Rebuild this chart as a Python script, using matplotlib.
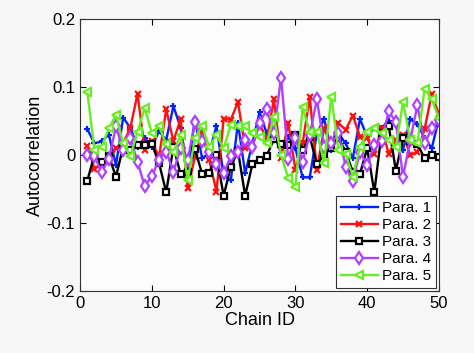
import matplotlib.pyplot as plt
import numpy as np

plt.rcParams['font.family'] = ['Liberation Sans', 'DejaVu Sans']

chain_id = np.arange(1, 51)

para1 = [0.038, 0.017, 0.020, 0.030, -0.015, 0.055, 0.040, 0.012, 0.025, 0.012,
         0.035, 0.022, 0.072, 0.040, -0.025, 0.053, -0.005, 0.003, 0.043, -0.030,
         -0.037, 0.047, -0.027, 0.017, 0.063, 0.032, 0.032, 0.003, 0.027, 0.010,
         -0.033, -0.033, 0.032, 0.053, 0.008, 0.032, 0.017, -0.005, 0.053, 0.027,
         0.040, 0.040, 0.050, 0.045, 0.008, 0.053, 0.045, 0.025, 0.010, 0.053]
para2 = [0.013, -0.020, -0.015, -0.008, 0.010, 0.017, 0.040, 0.090, 0.008, 0.020,
         -0.003, 0.067, 0.020, 0.053, -0.049, -0.003, 0.035, -0.007, -0.054, 0.053,
         0.052, 0.078, 0.010, 0.012, 0.047, 0.022, 0.082, -0.005, 0.047, -0.022,
         0.017, 0.085, -0.022, 0.040, 0.012, 0.047, 0.037, 0.058, 0.027, 0.025,
         0.002, 0.040, 0.002, 0.022, 0.030, 0.000, 0.004, 0.038, 0.090, 0.060]
para3 = [-0.038, 0.000, -0.011, -0.002, -0.032, 0.012, 0.007, 0.014, 0.014, 0.016,
         -0.012, -0.055, 0.012, -0.028, -0.025, 0.009, -0.028, -0.026, 0.000, -0.060,
         -0.017, 0.006, -0.060, -0.014, -0.007, -0.001, 0.023, 0.016, 0.015, 0.030,
         0.007, 0.027, -0.014, 0.001, 0.010, 0.025, 0.005, -0.025, -0.028, 0.010,
         -0.055, 0.032, 0.043, -0.023, 0.025, 0.020, 0.016, -0.005, 0.000, -0.003]
para4 = [0.000, -0.002, -0.025, -0.006, 0.042, 0.007, 0.025, -0.010, -0.046, -0.031,
         -0.007, 0.005, -0.025, 0.010, -0.007, 0.048, 0.020, 0.005, -0.013, -0.027,
         -0.002, 0.005, 0.022, 0.012, 0.047, 0.067, 0.032, 0.114, -0.006, 0.025,
         -0.010, 0.030, 0.082, 0.012, 0.017, 0.032, -0.017, -0.039, 0.005, -0.015,
         0.015, 0.021, 0.064, 0.049, -0.032, 0.022, 0.073, 0.017, 0.039, 0.051]
para5 = [0.093, 0.007, 0.012, 0.039, 0.059, 0.017, -0.002, 0.034, 0.069, 0.032,
         0.042, 0.016, 0.005, 0.029, -0.037, 0.025, 0.042, 0.012, 0.029, 0.010,
         0.044, 0.042, 0.042, 0.032, 0.027, 0.017, 0.056, 0.000, -0.034, -0.047,
         0.070, 0.034, 0.034, -0.012, 0.086, 0.007, 0.002, -0.032, 0.012, 0.034,
         0.039, 0.032, 0.022, 0.012, 0.078, 0.022, 0.017, 0.097, 0.082, 0.054]

labels = ['Para. 1', 'Para. 2', 'Para. 3', 'Para. 4', 'Para. 5']

fig = plt.figure(figsize=(4.74, 3.53), dpi=100, facecolor='#f7f7f7')
ax = fig.add_axes([0.169, 0.176, 0.757, 0.770])
ax.set_facecolor('#fcfcfc')

ax.plot(chain_id, para1, color='#0022ff', marker='+', markersize=5, mew=1.6, lw=1.7, label=labels[0])
ax.plot(chain_id, para2, color='#ff1010', marker='x', markersize=4, mew=1.6, lw=1.7, label=labels[1])
ax.plot(chain_id, para3, color='black', marker='s', markersize=4.5, mfc='white', mew=1.6, lw=1.7, label=labels[2])
ax.plot(chain_id, para4, color='#b040ff', marker='d', markersize=6, mfc='white', mew=1.6, lw=1.7, label=labels[3])
ax.plot(chain_id, para5, color='#66ee22', marker='<', markersize=6, mfc='white', mew=1.6, lw=1.7, label=labels[4])

ax.set_xlim(0, 50)
ax.set_ylim(-0.2, 0.2)
ax.set_xticks([0, 10, 20, 30, 40, 50])
ax.set_yticks([-0.2, -0.1, 0, 0.1, 0.2])
ax.set_yticklabels(['-0.2', '-0.1', '0', '0.1', '0.2'])
ax.tick_params(direction='in', top=True, right=True, labelsize=12, length=4)
for s in ax.spines.values():
    s.set_linewidth(0.8)
    s.set_color('#333333')

ax.set_xlabel('Chain ID', fontsize=13, labelpad=1)
ax.set_ylabel('Autocorrelation', fontsize=13, labelpad=2)

leg = ax.legend(loc='lower right', fontsize=11, fancybox=False, edgecolor='#333333',
                handlelength=2.4, borderpad=0.3, labelspacing=0.2, handletextpad=0.3,
                borderaxespad=0.2, framealpha=1)
leg.get_frame().set_linewidth(0.8)

fig.savefig('out.png', dpi=100, facecolor=fig.get_facecolor())
